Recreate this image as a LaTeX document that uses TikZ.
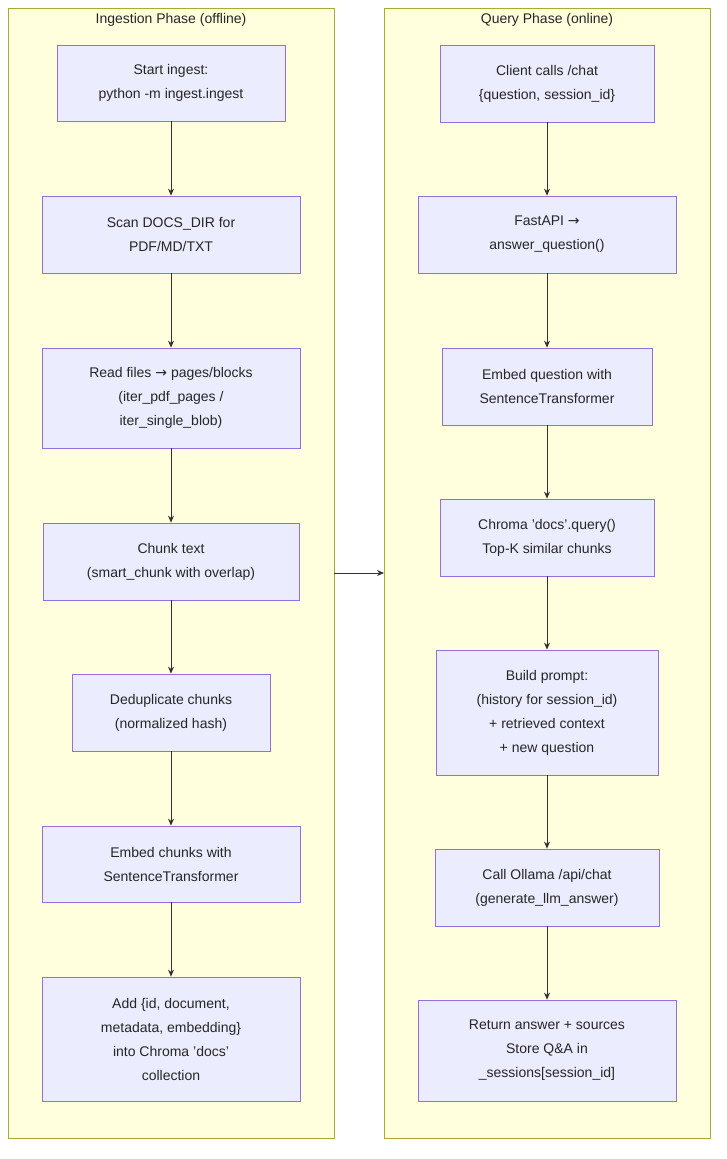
\documentclass[tikz,border=0pt]{standalone}
\usepackage{fontspec}
\setmainfont{Liberation Sans}
\newfontfamily\arr{DejaVu Sans}
\usetikzlibrary{arrows.meta}
\definecolor{clfill}{HTML}{FFFFDE}
\definecolor{cldraw}{HTML}{AAAA33}
\definecolor{boxfill}{HTML}{ECECFF}
\definecolor{boxdraw}{HTML}{9370DB}
\begin{document}
\begin{tikzpicture}[x=1pt,y=-1pt,
  cluster/.style={draw=cldraw,fill=clfill,line width=0.8pt},
  box/.style={draw=boxdraw,fill=boxfill,line width=0.8pt,align=center,font=\fontsize{14}{24}\selectfont,text=black!85,inner sep=0pt},
  link/.style={draw=black!80,line width=0.8pt,-{Stealth[length=7pt,width=6pt]}},
  title/.style={font=\fontsize{14}{17}\selectfont,text=black!85}]
\useasboundingbox (0,0) rectangle (726,1159);
\fill[white] (0,0) rectangle (726,1159);
\draw[cluster] (8,8) rectangle (334,1138);
\draw[cluster] (384,8) rectangle (710,1138);
\node[title] (tl) at (171,20) {Ingestion Phase (offline)};
\node[title] (tr) at (547,20) {Query Phase (online)};
\newcommand\bx[6]{\node[box,minimum width=#3-#2,minimum height=#5-#4] (#1) at ({(#2+#3)/2},{(#4+#5)/2}) {#6};}
\bx{l1}{57}{285}{45}{121}{Start ingest:\\python -m ingest.ingest}
\bx{l2}{42}{300}{196}{273}{Scan DOCS\_DIR for\\PDF/MD/TXT}
\bx{l3}{42}{300}{348}{448}{Read files {\arr →} pages/blocks\\(iter\_pdf\_pages /\\iter\_single\_blob)}
\bx{l4}{43}{299}{523}{600}{Chunk text\\(smart\_chunk with overlap)}
\bx{l5}{72}{270}{674}{751}{Deduplicate chunks\\(normalized hash)}
\bx{l6}{42}{300}{826}{902}{Embed chunks with\\SentenceTransformer}
\bx{l7}{42}{300}{977}{1101}{Add \{id, document,\\metadata, embedding\}\\into Chroma 'docs'\\collection}
\bx{r1}{440}{654}{45}{122}{Client calls /chat\\\{question, session\_id\}}
\bx{r2}{418}{676}{196}{273}{FastAPI {\arr →}\\answer\_question()}
\bx{r3}{442}{652}{348}{425}{Embed question with\\SentenceTransformer}
\bx{r4}{440}{654}{499}{576}{Chroma 'docs'.query()\\Top-K similar chunks}
\bx{r5}{436}{658}{650}{775}{Build prompt:\\(history for session\_id)\\+ retrieved context\\+ new question}
\bx{r6}{435}{659}{849}{926}{Call Ollama /api/chat\\(generate\_llm\_answer)}
\bx{r7}{418}{676}{1000}{1101}{Return answer + sources\\Store Q\&A in\\\_sessions[session\_id]}
\foreach \a/\b in {l1/l2,l2/l3,l3/l4,l4/l5,l5/l6,l6/l7,r1/r2,r2/r3,r3/r4,r4/r5,r5/r6,r6/r7}
  \draw[link] (\a) -- (\b);
\coordinate (ca) at (334,573);
\coordinate (cb) at (384,573);
\draw[link] (ca) -- (cb);
\end{tikzpicture}
\end{document}
